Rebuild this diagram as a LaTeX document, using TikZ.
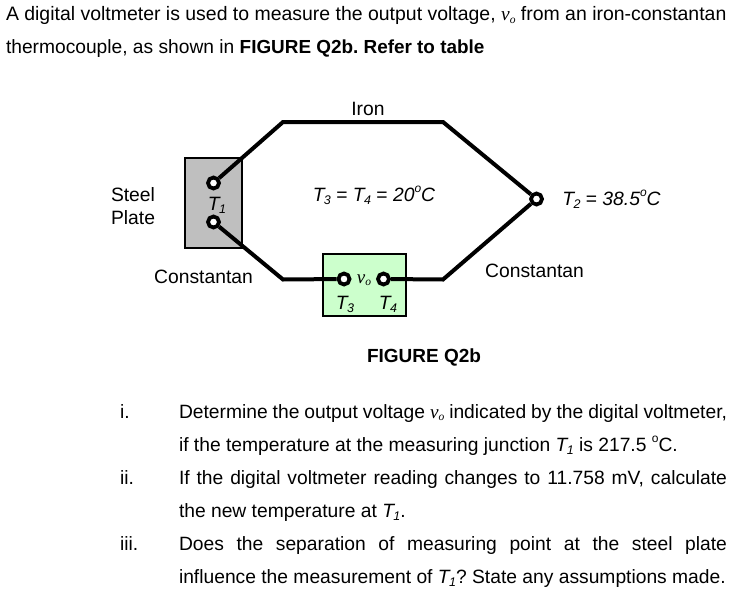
\documentclass[tikz,border=0pt]{standalone}
\usepackage{fontspec}
\setmainfont{Liberation Sans}
\newfontfamily\vfont{Liberation Serif}
\frenchspacing
\newcommand{\Tsub}[1]{\textit{T\kern-0.03em\raisebox{-0.16em}{\fontsize{12.5pt}{13pt}\selectfont #1}}}
\newcommand{\vout}{{\vfont\itshape v\raisebox{-0.15em}{\fontsize{11.5pt}{12pt}\selectfont o}}}
\newcommand{\degsym}{\raisebox{0.42em}{\fontsize{12pt}{13pt}\selectfont o}}
\tikzset{
  txt/.style={anchor=base west,inner sep=0pt,outer sep=0pt,font=\fontsize{19.25pt}{21pt}\selectfont},
  lbl/.style={anchor=base,inner sep=0pt,outer sep=0pt,font=\fontsize{19.3pt}{21pt}\selectfont},
  wire/.style={line width=4pt,line join=miter},
  junction/.style={circle,draw=black,fill=white,line width=3.8pt,minimum size=11pt,inner sep=0pt},
  platebox/.style={draw=black,line width=1.6pt,fill=#1,inner sep=0pt,outer sep=0pt,anchor=north west}
}
\begin{document}
\begin{tikzpicture}[x=1pt,y=-1pt]
\useasboundingbox (0,0) rectangle (754,615);
% heading
\node[txt,font=\fontsize{19.45pt}{21pt}\selectfont] (h1) at (6,21) {A digital voltmeter is used to measure the output voltage, \vout{} from an iron-constantan};
\node[txt,font=\fontsize{19.2pt}{21pt}\selectfont] (h2) at (6,54) {thermocouple, as shown in \fontsize{18.9pt}{21pt}\selectfont\textbf{FIGURE Q2b. Refer to table}};
% boxes
\node[platebox=black!25,minimum width=57pt,minimum height=90pt] (plate) at (185,158) {};
\node[platebox=green!20,minimum width=83pt,minimum height=62pt] (meter) at (323,254) {};
% wire corners
\coordinate (ctl) at (283,122);
\coordinate (ctr) at (443,122);
\coordinate (cbl) at (283,279.5);
\coordinate (cbr) at (443,279.5);
\node[junction] (t1a) at (213.5,183) {};
\node[junction] (t1b) at (213.5,222) {};
\node[junction] (t2) at (536.5,199) {};
\node[junction] (t3) at (344,279) {};
\node[junction] (t4) at (383.5,279) {};
\draw[wire] (t1a) -- (ctl) -- (ctr) -- (t2);
\draw[wire] (t2) -- (cbr) -- (t4);
\draw[wire] (t3) -- (cbl) -- (t1b);
% diagram labels
\node[lbl] (iron) at (368,116) {Iron};
\node[lbl,anchor=base west] (steel) at (111,201) {Steel};
\node[lbl,anchor=base west] (pl) at (111,224) {Plate};
\node[lbl] (con1) at (203.5,283) {Constantan};
\node[lbl] (con2) at (534.5,277) {Constantan};
\node[lbl] (teq) at (374,201) {\Tsub{3} = \Tsub{4} = \textit{20\degsym C}};
\node[lbl] (ttwo) at (611.5,205) {\Tsub{2} = \textit{38.5\degsym C}};
\node[lbl] (tone) at (217,210) {\Tsub{1}};
\node[lbl,font=\fontsize{19pt}{21pt}\selectfont] (vo) at (364,283) {\vout};
\node[lbl] (tthree) at (345,309) {\Tsub{3}};
\node[lbl] (tfour) at (388,309) {\Tsub{4}};
\node[lbl,font=\fontsize{19pt}{21pt}\bfseries] (fig) at (424,362) {FIGURE Q2b};
% questions
\node[txt] (ni) at (120,418) {i.};
\node[txt] (nii) at (120,484) {ii.};
\node[txt] (niii) at (120,550) {iii.};
\node[txt] (q1) at (179,418) {\makebox[548pt][s]{Determine the output voltage \vout{} indicated by the digital voltmeter,}};
\node[txt] (q2) at (179,451) {if the temperature at the measuring junction \Tsub{1} is 217.5 \raisebox{0.42em}{\fontsize{12pt}{13pt}\selectfont o}C.};
\node[txt] (q3) at (179,484) {\makebox[548pt][s]{If the digital voltmeter reading changes to 11.758 mV, calculate}};
\node[txt] (q4) at (179,517) {the new temperature at \Tsub{1}.};
\node[txt] (q5) at (179,550) {\makebox[548pt][s]{Does the separation of measuring point at the steel plate}};
\node[txt] (q6) at (179,583) {influence the measurement of \Tsub{1}? State any assumptions made.};
\end{tikzpicture}
\end{document}
